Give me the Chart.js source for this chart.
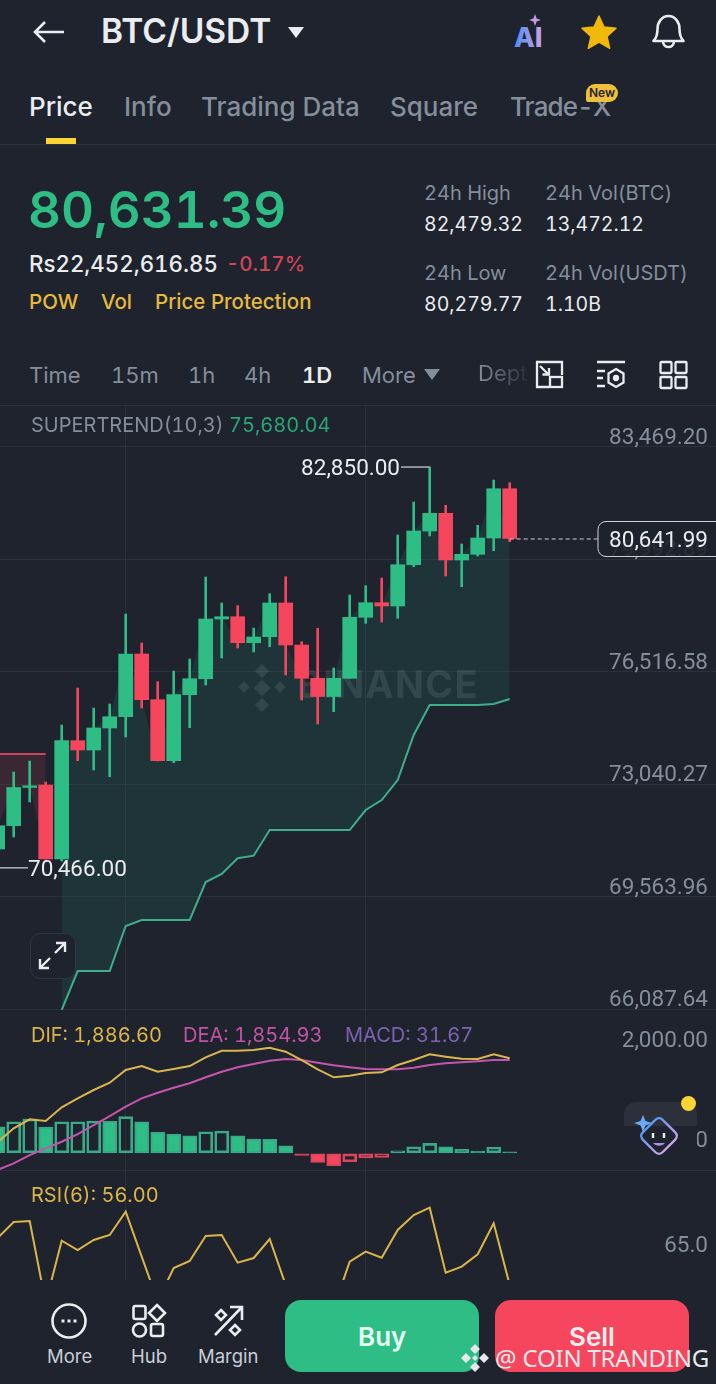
<!DOCTYPE html>
<html>
<head>
<meta charset="utf-8">
<title>BTC/USDT</title>
<script src="https://cdn.jsdelivr.net/npm/chart.js@4"></script>
<style>
html, body { margin: 0; padding: 0; background: #1e232d; }
body { position: relative; width: 716px; height: 1384px; overflow: hidden; font-family: Inter, sans-serif; font-variant-numeric: tabular-nums; color: #eaecef; }
canvas { position: absolute; left: 0; display: block; }
.t { position: absolute; white-space: nowrap; line-height: 1; transform: translateY(-50%); }
.grey { color: #848e9c; }
.tab { font-size: 26px; font-weight: 500; top: 107px; color: #848e9c; }
.stat { font-size: 19.5px; }
.tf { font-size: 22px; top: 375px; color: #848e9c; }
.nav { font-size: 18.5px; top: 1356px; color: #c9ced6; }
.yellow { color: #e6b93f; }
.ind { font-size: 20px; }
.line { position: absolute; left: 0; width: 716px; height: 1px; background: #2b3039; }
svg { position: absolute; overflow: visible; }
.btn { position: absolute; top: 1300px; width: 194px; height: 72px; border-radius: 16px; }
</style>
</head>
<body>

<!-- header -->
<svg style="left:33px;top:20px" width="32" height="24" fill="none" stroke="#eaecef" stroke-width="2.6"><path d="M31 12H2M12 2L2 12l10 10"/></svg>
<div class="t" style="left:101px;top:32px;font-size:33.5px;font-weight:600;">BTC/USDT</div>
<svg style="left:288px;top:27px" width="16" height="11"><path d="M0 0h16l-8 11z" fill="#eaecef"/></svg>
<svg style="left:514px;top:14px" width="32" height="34">
  <defs><linearGradient id="ai" x1="0" x2="1"><stop offset="0" stop-color="#4f8df5"/><stop offset="1" stop-color="#c9a2e8"/></linearGradient></defs>
  <text x="0" y="33" font-family="Inter" font-weight="800" font-size="27" fill="url(#ai)">AI</text>
  <path d="M21 0l1.6 4.4L27 6l-4.4 1.6L21 12l-1.6-4.4L15 6l4.4-1.6z" fill="#c79ae0"/>
</svg>
<svg style="left:581px;top:15px" width="36" height="34"><path d="M18 1l5 11 12 1.300-9 8.200 2.700 11.800L18 27l-10.700 6.300L10 21.500 1 13.300 13 12z" fill="#f0b90b" stroke="#f0b90b" stroke-width="1.500" stroke-linejoin="round"/></svg>
<svg style="left:652px;top:14px" width="33" height="36" fill="none" stroke="#eaecef" stroke-width="2.600" stroke-linejoin="round"><path d="M1.500 27c3-3 4-6 4-12 0-7 4.500-13 11-13s11 6 11 13c0 6 1 9 4 12z"/><path d="M11 27c0 8 11 8 11 0"/></svg>

<!-- tabs -->
<div class="t tab" style="left:29px;color:#eaecef;">Price</div>
<div class="t tab" style="left:124px;">Info</div>
<div class="t tab" style="left:201px;">Trading Data</div>
<div class="t tab" style="left:390px;">Square</div>
<div class="t tab" style="left:510px;letter-spacing:-.9px;">Trade-X</div>
<div class="t" style="left:586px;top:93px;width:32px;height:18px;line-height:18px;text-align:center;background:#f0c03a;border-radius:9px 9px 9px 2px;color:#1e232d;font-size:12px;font-weight:600;">New</div>
<div style="position:absolute;left:46px;top:138px;width:30px;height:6px;background:#fcd535;"></div>
<div class="line" style="top:144px;"></div>

<!-- ticker -->
<div class="t" style="left:28px;top:209px;font-size:51px;font-weight:600;color:#2ebd85;">80,631.39</div>
<div class="t" style="left:29px;top:264px;font-size:22.3px;font-weight:500;">Rs22,452,616.85</div>
<div class="t" style="left:226px;top:264px;font-size:20.5px;font-weight:500;color:#cf4559;">-0.17%</div>
<div class="t yellow" style="left:29px;top:302px;font-size:20.5px;font-weight:500;">POW</div>
<div class="t yellow" style="left:101px;top:302px;font-size:20.5px;font-weight:500;">Vol</div>
<div class="t yellow" style="left:155px;top:302px;font-size:20.5px;font-weight:500;">Price Protection</div>
<div class="t stat grey" style="left:424px;top:193px;font-size:20px;">24h High</div>
<div class="t stat" style="left:424px;top:225px;">82,479.32</div>
<div class="t stat grey" style="left:545px;top:193px;font-size:20px;">24h Vol(BTC)</div>
<div class="t stat" style="left:545px;top:225px;">13,472.12</div>
<div class="t stat grey" style="left:424px;top:273px;font-size:20px;">24h Low</div>
<div class="t stat" style="left:424px;top:305px;">80,279.77</div>
<div class="t stat grey" style="left:545px;top:273px;font-size:20px;">24h Vol(USDT)</div>
<div class="t stat" style="left:545px;top:305px;">1.10B</div>

<!-- timeframe row -->
<div class="t tf" style="left:29px;">Time</div>
<div class="t tf" style="left:111px;">15m</div>
<div class="t tf" style="left:188px;">1h</div>
<div class="t tf" style="left:244px;">4h</div>
<div class="t tf" style="left:302px;color:#eaecef;font-weight:600;">1D</div>
<div class="t tf" style="left:362px;">More</div>
<svg style="left:424px;top:369px" width="16" height="11"><path d="M0 0h16l-8 11z" fill="#848e9c"/></svg>
<div class="t tf" style="left:478px;background:linear-gradient(90deg,#848e9c,#2a2f39);-webkit-background-clip:text;color:transparent;padding-bottom:5px;">Dept</div>
<svg style="left:535px;top:360px" width="30" height="30" fill="none" stroke="#eaecef" stroke-width="2.300"><path d="M14 27H2V2h25v13"/><rect x="15" y="17" width="12" height="10"/><path d="M5 6l9 9M7.500 14.500h6.500V8"/></svg>
<svg style="left:596px;top:360px" width="30" height="30" fill="none" stroke="#eaecef" stroke-width="2.300"><path d="M1 2h28M1 11h8M1 18h6M1 26h8"/><path d="M20 9l7.500 4.500v9L20 27l-7.500-4.500v-9z"/><circle cx="20" cy="18" r="2" fill="#eaecef"/></svg>
<svg style="left:659px;top:360px" width="30" height="30" fill="none" stroke="#eaecef" stroke-width="2.300"><rect x="1.500" y="2" width="11" height="11" rx="1"/><rect x="16.500" y="2" width="11" height="11" rx="1"/><rect x="1.500" y="17" width="11" height="11" rx="1"/><rect x="16.500" y="17" width="11" height="11" rx="1"/></svg>
<div class="line" style="top:405px;"></div>

<!-- chart panes -->
<canvas id="price-chart" width="716" height="605" style="top:405px"></canvas>
<canvas id="macd-chart" width="716" height="160" style="top:1010px"></canvas>
<canvas id="rsi-chart" width="716" height="110" style="top:1170px"></canvas>
<div class="line" style="top:1170px;"></div>

<div class="t ind" style="left:31px;top:425px;color:#848e9c;">SUPERTREND(10,3) <span style="color:#2ebd85;opacity:.85">75,680.04</span></div>
<div class="t ind" style="left:31px;top:1035px;color:#dcb54a;">DIF: 1,886.60</div>
<div class="t ind" style="left:183px;top:1035px;color:#c253a6;">DEA: 1,854.93</div>
<div class="t ind" style="left:345px;top:1035px;color:#7c62b0;">MACD: 31.67</div>
<div class="t ind" style="left:31px;top:1195px;color:#dcb54a;">RSI(6): 56.00</div>

<!-- expand button -->
<div style="position:absolute;left:30px;top:933px;width:44px;height:44px;border:1px solid #2f3540;border-radius:10px;background:#1e232d;"></div>
<svg style="left:38px;top:941px" width="29" height="29" fill="none" stroke="#eaecef" stroke-width="2.400"><path d="M17 12L27 2M18 2h9v9M12 17L2 27M2 18v9h9"/></svg>

<!-- floating assistant -->
<div style="position:absolute;left:624px;top:1102px;width:73px;height:68px;background:#1e232d;"></div>
<div style="position:absolute;left:624px;top:1102px;width:73px;height:24px;background:#2b303a;border-radius:12px 12px 0 0;"></div>
<svg style="left:634px;top:1112px" width="50" height="50" fill="none">
  <defs><linearGradient id="bot" x1="0" x2="1"><stop offset="0" stop-color="#5d9af5"/><stop offset="1" stop-color="#c8a2ec"/></linearGradient></defs>
  <rect x="11" y="10" width="28" height="28" rx="5" transform="rotate(45 25 24)" stroke="url(#bot)" stroke-width="2.400"/>
  <path d="M19 21v5M30 21v5" stroke="#eaecef" stroke-width="2.400"/><path d="M19 31c3 3.500 9 3.500 12 0z" fill="#a98cf0"/>
  <path d="M9 3l2.500 6L18 11l-6.500 2.500L9 20l-2.500-6.500L0 11l6.500-2z" fill="#6aa9f7"/>
</svg>
<div style="position:absolute;left:681px;top:1096px;width:15px;height:15px;border-radius:50%;background:#fcd535;"></div>

<!-- bottom bar -->
<svg style="left:51px;top:1303px" width="36" height="36" fill="none" stroke="#eaecef" stroke-width="2.600"><circle cx="18" cy="18" r="16.500"/><path d="M10.500 18h3M16.500 18h3M22.500 18h3" stroke-width="3"/></svg>
<div class="t nav" style="left:47px;">More</div>
<svg style="left:132px;top:1304px" width="34" height="34" fill="none" stroke="#eaecef" stroke-width="2.600"><rect x="1.500" y="2" width="12" height="13" rx="2"/><path d="M25 1l8 8-8 8-8-8z"/><circle cx="7.500" cy="26" r="6.500"/><rect x="19" y="20" width="12" height="12" rx="2"/></svg>
<div class="t nav" style="left:131px;">Hub</div>
<svg style="left:213px;top:1304px" width="32" height="34" fill="none" stroke="#eaecef" stroke-width="2.600"><path d="M2 31L29 3M17 3h12v13"/><path d="M8 6l5 5-5 5-5-5zM22 21l5 5-5 5-5-5z"/></svg>
<div class="t nav" style="left:198px;">Margin</div>
<div class="btn" style="left:285px;background:#2ebd85;"></div>
<div class="btn" style="left:495px;background:#f6465d;"></div>
<div class="t" style="left:358px;top:1337px;font-size:26px;font-weight:600;color:#e4fff4;">Buy</div>
<div class="t" style="left:569px;top:1337px;font-size:26px;font-weight:600;color:#ffeef0;">Sell</div>
<svg style="left:461px;top:1344px" width="28" height="28" fill="#e4e7eb"><path d="M14 0l5 5-5 5-5-5zM5 9l5 5-5 5-5-5zM23 9l5 5-5 5-5-5zM14 18l5 5-5 5-5-5z"/><path d="M14 11l3 3-3 3-3-3z"/></svg>
<div class="t" style="left:495px;top:1358px;font-size:24px;color:#e4e7eb;font-family:'Noto Sans',sans-serif;letter-spacing:-.2px;">@ COIN TRANDING</div>

<script>
// candles, oldest first (USDT)
const candleIdx = [0,1,2,3,4,5,6,7,8,9,10,11,12,13,14,15,16,17,18,19,20,21,22,23,24,25,26,27,28,29,30,31,32];
const opens  = [71047,71767,72948,73025,70738,74394,74106,74786,75135,77073,75661,73776,75815,76309,78154,78225,77422,77607,78649,77351,76322,75759,76322,78207,78658,78556,79832,80873,81420,79977,80153,80657,82180];
const closes = [71767,72948,73000,70738,74394,74106,74786,75135,77073,75661,73776,75815,76309,78154,78225,77422,77598,78649,77351,76322,75759,76322,78207,78658,78556,79832,80873,81420,79977,80153,80657,82180,80642];
const highs  = [72098,73426,73766,73117,74879,76022,75404,75528,78309,77413,76217,76547,76918,79452,78649,78565,77876,78936,79461,77453,77867,76640,78896,79183,79421,80750,81769,82850,81668,80472,81050,82449,82366];
const lows   = [70862,71418,72499,70738,70676,73776,73488,73281,74508,75404,73766,73714,74795,76115,76949,77258,77134,77298,76424,75651,74910,75290,76322,78021,78061,78176,79770,80719,79483,79152,80101,80265,80543];

// supertrend(10,3)
const trendUp   = [null,null,null,null,66072,67277,67277,67277,68668,68853,68853,68853,68853,70027,70275,70760,70840,71634,71634,71634,71634,71634,71634,72252,72561,73179,74570,75497,75497,75497,75497,75528,75680.04];
const trendDown = [73983,73983,73983,73983];

// macd
const macdHist = [528,627,681,522,627,627,641,635,727,627,417,377,349,429,443,349,284,278,151,-40,-179,-246,-167,-93,-79,52,131,199,131,79,46,125,31.67];
const difLine  = [224,496,675,641,913,1092,1257,1401,1654,1733,1620,1673,1733,1906,2037,2037,2051,2096,2017,1852,1667,1509,1540,1594,1608,1753,1852,1965,1918,1878,1872,1965,1886.6];
const deaLine  = [-326,-199,-34,99,230,383,562,740,925,1092,1203,1302,1390,1509,1620,1707,1773,1838,1872,1852,1798,1747,1707,1673,1667,1667,1699,1753,1787,1806,1826,1852,1854.93];

// rsi(6)
const rsiLine = [70.1,74.9,75.2,50.6,69.3,66.5,69.5,71,78,64.5,51.2,61.1,63.2,70.7,71,62.7,64.1,69.8,56,48.5,45.5,49.1,63,66,64.2,72.5,77,79.2,59.7,61.5,65.2,74.5,56];

// axis ticks
const priceTicks = [83469.20,79992.89,76516.58,73040.27,69563.96,66087.64];
const macdTicks = [2000,0];
const rsiTicks = [65];
const timeGridIdx = [8,23];

const lastPrice = 80641.99;
const highPrice = 82850;
const lowPrice = 70466;

// ── Helpers ──────────────────────────────────────────────────────────────

const GREEN = '#2ebd85';
const RED = '#f6465d';
const GRID = '#2b3039';
const AXIS_TEXT = '#848e9c';
const LABEL_FONT = '22.5px Roboto';  // digits all one width, canvas has no tabular-nums

const xView = { min: 0.144, max: 44.894 };

function points(values) {
    return values.map((v, i) => ({ x: candleIdx[i], y: v }));
}

function fmt2(v) {
    return v.toLocaleString('en-US', { minimumFractionDigits: 2, maximumFractionDigits: 2 });
}

function xScale() {
    return {
        type: 'linear',
        min: xView.min,
        max: xView.max,
        offset: false,
        border: { display: false },
        ticks: { display: false },
        grid: { color: GRID, drawTicks: false, offset: false },
        afterBuildTicks: s => { s.ticks = timeGridIdx.map(v => ({ value: v })); },
        afterFit: s => { s.height = 0; s.paddingLeft = s.paddingRight = 0; },
    };
}

function yScale(min, max, tickValues, label, showGrid, labelOffset) {
    return {
        position: 'right',
        min,
        max,
        border: { display: false },
        grid: { color: showGrid ? GRID : 'transparent', drawTicks: false },
        ticks: {
            mirror: true,
            padding: -8,
            labelOffset,
            autoSkip: false,
            color: AXIS_TEXT,
            font: { family: 'Roboto', size: 22.5 },
            callback: label,
        },
        afterBuildTicks: s => { s.ticks = tickValues.map(v => ({ value: v })); },
        afterFit: s => { s.width = 0; s.paddingTop = s.paddingBottom = 0; },
    };
}

function baseOptions(scales) {
    return {
        responsive: false,
        animation: false,
        events: [],
        layout: { padding: 0 },
        plugins: { legend: { display: false }, tooltip: { enabled: false } },
        scales,
    };
}

// ── Price pane plugins ───────────────────────────────────────────────────

const watermark = {
    id: 'watermark',
    beforeDatasetsDraw(chart) {
        const ctx = chart.ctx;
        ctx.save();
        ctx.fillStyle = 'rgba(190,210,215,0.12)';
        ctx.font = '700 38px Inter';
        ctx.letterSpacing = '1.2px';
        ctx.textBaseline = 'middle';
        ctx.fillText('BINANCE', 297, 282);
        ctx.letterSpacing = '0px';
        [[262, 266, 5], [244, 282, 4], [280, 282, 4], [262, 300, 5], [262, 283, 6]].forEach(d => {
            ctx.save();
            ctx.translate(d[0], d[1]);
            ctx.rotate(Math.PI / 4);
            ctx.fillRect(-d[2], -d[2], d[2] * 2, d[2] * 2);
            ctx.restore();
        });
        ctx.restore();
    },
};

const priceMarks = {
    id: 'priceMarks',
    afterDatasetsDraw(chart) {
        const ctx = chart.ctx;
        const x = chart.scales.x;
        const y = chart.scales.y;
        ctx.save();
        ctx.font = LABEL_FONT;
        ctx.textBaseline = 'middle';

        // highest high
        const hx = x.getPixelForValue(highs.indexOf(highPrice));
        const hy = y.getPixelForValue(highPrice);
        ctx.strokeStyle = '#aeb4bc';
        ctx.lineWidth = 1.5;
        ctx.beginPath();
        ctx.moveTo(401, hy);
        ctx.lineTo(hx, hy);
        ctx.stroke();
        ctx.fillStyle = '#eaecef';
        ctx.textAlign = 'right';
        ctx.fillText(fmt2(highPrice), 400, hy + 2.5);

        // lowest low, its candle is off to the left
        const ly = y.getPixelForValue(lowPrice);
        ctx.beginPath();
        ctx.moveTo(0, ly);
        ctx.lineTo(28, ly);
        ctx.stroke();
        ctx.textAlign = 'left';
        ctx.fillText(fmt2(lowPrice), 28, ly + 2.5);

        // last price tag
        const py = y.getPixelForValue(lastPrice);
        const px = x.getPixelForValue(candleIdx[candleIdx.length - 1]);
        ctx.setLineDash([4, 3]);
        ctx.strokeStyle = '#cfd3d8';
        ctx.lineWidth = 1;
        ctx.beginPath();
        ctx.moveTo(px, py + 0.5);
        ctx.lineTo(598, py + 0.5);
        ctx.stroke();
        ctx.setLineDash([]);
        ctx.fillStyle = 'rgba(30,35,45,0.88)';
        ctx.beginPath();
        ctx.roundRect(598, py - 17, 130, 35, 8);
        ctx.fill();
        ctx.stroke();
        ctx.fillStyle = '#eaecef';
        ctx.textAlign = 'right';
        ctx.fillText(fmt2(lastPrice), 708, py + 2.5);
        ctx.restore();
    },
};

// ── Charts ───────────────────────────────────────────────────────────────

const candleColor = ctx => {
    const i = ctx.dataIndex;
    return closes[i] >= opens[i] ? GREEN : RED;
};

new Chart(document.getElementById('price-chart'), {
    type: 'bar',
    data: {
        datasets: [
            {
                type: 'bar', grouped: false, order: 1, barThickness: 14,
                data: candleIdx.map(i => ({ x: i, y: [opens[i], closes[i]] })),
                backgroundColor: candleColor,
            },
            {
                type: 'bar', grouped: false, order: 2, barThickness: 2,
                data: candleIdx.map(i => ({ x: i, y: [lows[i], highs[i]] })),
                backgroundColor: candleColor,
            },
            {
                type: 'line', order: 3, pointRadius: 0, borderWidth: 2, borderColor: '#3fae8b',
                data: points(trendUp),
            },
            {
                type: 'line', order: 4, pointRadius: 0, borderWidth: 0,
                data: points(closes.map((c, i) => trendUp[i] === null ? null : c)),
                fill: { target: 2, above: 'rgba(46,189,150,0.115)' },
            },
            {
                type: 'line', order: 3, pointRadius: 0, borderWidth: 2, borderColor: '#c9475a',
                data: points(trendDown),
            },
            {
                type: 'line', order: 4, pointRadius: 0, borderWidth: 0,
                data: points(closes.slice(0, trendDown.length)),
                fill: { target: 4, below: 'rgba(246,70,93,0.13)' },
            },
        ],
    },
    options: baseOptions({
        x: xScale(),
        y: yScale(66072, 84767, priceTicks, fmt2, true, -9),
    }),
    plugins: [watermark, priceMarks],
});

new Chart(document.getElementById('macd-chart'), {
    type: 'bar',
    data: {
        datasets: [
            {
                type: 'line', order: 1, pointRadius: 0, borderWidth: 2, borderColor: '#d9b650',
                data: points(difLine),
            },
            {
                type: 'line', order: 2, pointRadius: 0, borderWidth: 2, borderColor: '#c655ad',
                data: points(deaLine),
            },
            {
                type: 'bar', grouped: false, order: 3, barThickness: 14,
                data: points(macdHist),
                // rising bars are hollow, falling ones filled
                backgroundColor: ctx => {
                    const i = ctx.dataIndex;
                    if (i > 0 && macdHist[i] >= macdHist[i - 1]) return 'transparent';
                    return macdHist[i] >= 0 ? GREEN : RED;
                },
                borderColor: ctx => (macdHist[ctx.dataIndex] >= 0 ? '#3aa988' : '#d9475c'),
                borderWidth: 2,
                borderSkipped: false,
            },
        ],
    },
    options: baseOptions({
        x: xScale(),
        y: yScale(-331, 2845, macdTicks, fmt2, false, -11.5),
    }),
});

new Chart(document.getElementById('rsi-chart'), {
    type: 'line',
    data: {
        datasets: [{
            pointRadius: 0, borderWidth: 2, borderColor: '#dcb54a',
            data: points(rsiLine),
        }],
    },
    options: baseOptions({
        x: xScale(),
        y: yScale(57.5, 90.5, rsiTicks, v => v.toFixed(1), false, -9),
    }),
});
</script>
</body>
</html>
